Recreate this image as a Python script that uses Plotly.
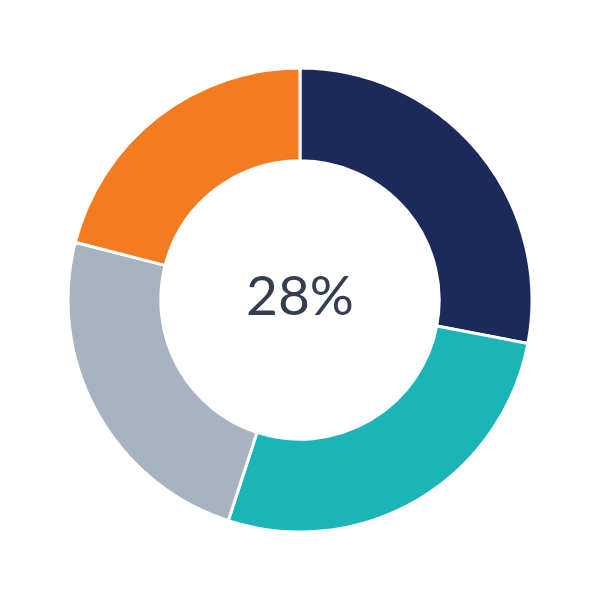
import plotly.graph_objects as go

labels = ["A", "B", "C", "D"]
values = [28, 27, 24, 21]
colors = ["#1B2A5B", "#1BB5B8", "#A8B3C2", "#F47C20"]
center_text = "28%"

fig = go.Figure(go.Pie(
    labels=labels,
    values=values,
    hole=0.6,
    sort=False,
    direction="clockwise",
    rotation=0,
    marker=dict(colors=colors, line=dict(color="white", width=3)),
    textinfo="none",
    hoverinfo="label+percent",
    showlegend=False,
))
fig.update_layout(
    width=584, height=584,
    margin=dict(l=60, r=60, t=60, b=60),
    paper_bgcolor="white",
    plot_bgcolor="white",
    annotations=[dict(text=center_text, x=0.5, y=0.5, xref="paper", yref="paper",
                      yshift=6, showarrow=False,
                      font=dict(family="Lato", size=55, color="#333F4F"))],
)
fig.write_html("out.html")
